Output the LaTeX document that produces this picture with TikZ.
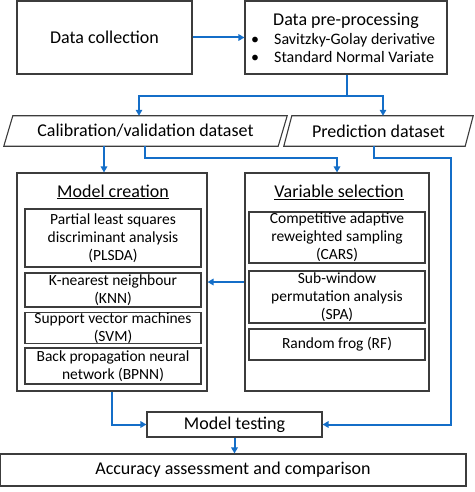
\documentclass[tikz,border=0pt]{standalone}
\usepackage{fontspec}
\setmainfont{Carlito}
\usetikzlibrary{arrows.meta,calc}
\definecolor{flowblue}{RGB}{20,110,200}
\definecolor{boxgray}{RGB}{60,60,60}
\tikzset{
  box/.style={draw=boxgray, line width=1.1pt, inner sep=0pt, align=center, font=\fontsize{18}{20}\selectfont},
  subbox/.style={draw=boxgray, line width=1.1pt, inner sep=0pt, align=center, minimum width=176pt, font=\fontsize{15.5}{18}\selectfont},
  plain/.style={inner sep=0pt, align=center, font=\fontsize{18}{20}\selectfont},
  smalltext/.style={inner sep=0pt, align=left, font=\fontsize{16}{18}\selectfont},
  flow/.style={draw=flowblue, line width=2pt},
  arr/.style={flow, -{Triangle[length=6pt,width=6.5pt]}},
}
\begin{document}
\begin{tikzpicture}[x=1pt,y=-1pt]
\useasboundingbox (0,0) rectangle (474,492);
% top row
\node[box, minimum width=175pt, minimum height=73pt] (dc) at (104.5,37.5) {Data collection};
\node[box, minimum width=202pt, minimum height=73pt] (pp) at (346,37.5) {};
\node[plain, anchor=base] (pptitle) at (346,26) {Data pre-processing};
\node[smalltext, anchor=base west] (ppb1) at (274,44.5) {Savitzky-Golay derivative};
\node[smalltext, anchor=base west] (ppb2) at (274,62.5) {Standard Normal Variate};
\node[smalltext, anchor=base] (bul1) at (255,44.5) {\textbullet};
\node[smalltext, anchor=base] (bul2) at (255,62.5) {\textbullet};
% datasets
\node[plain, minimum width=283pt, minimum height=30pt] (cal) at (145.5,131) {Calibration/validation dataset};
\draw[draw=boxgray, line width=1.1pt] ([xshift=9pt]cal.north west) -- (cal.north east) -- ([xshift=-9pt]cal.south east) -- (cal.south west) -- cycle;
\node[plain, minimum width=189pt, minimum height=30pt] (pred) at (378.5,131) {Prediction dataset};
\draw[draw=boxgray, line width=1.1pt] ([xshift=8pt]pred.north west) -- (pred.north east) -- ([xshift=-8pt]pred.south east) -- (pred.south west) -- cycle;
% big boxes
\node[box, minimum width=190pt, minimum height=218pt] (mc) at (112,282) {};
\node[plain, anchor=base] (mct) at (113,197) {\underline{Model creation}};
\node[box, minimum width=184pt, minimum height=218pt] (vs) at (337,282) {};
\node[plain, anchor=base] (vst) at (339,197.5) {\underline{Variable selection}};
% model sub boxes
\node[subbox, minimum height=58pt] (plsda) at (113,238) {Partial least squares\\discriminant analysis\\(PLSDA)};
\node[subbox, minimum height=34pt] (knn) at (113,290) {K-nearest neighbour\\(KNN)};
\node[subbox, minimum height=30pt] (svm) at (113,328) {Support vector machines\\(SVM)};
\node[subbox, minimum height=36pt] (bpnn) at (113,366) {Back propagation neural\\network (BPNN)};
% selection sub boxes
\node[subbox, minimum height=51pt] (cars) at (337,237.5) {Competitive adaptive\\reweighted sampling\\(CARS)};
\node[subbox, minimum height=52pt] (spa) at (337,297) {Sub-window\\permutation analysis\\(SPA)};
\node[subbox, minimum height=31pt] (rf) at (337,344.5) {Random frog (RF)};
% bottom
\node[box, minimum width=175pt, minimum height=25pt] (mt) at (234.5,424.5) {Model testing};
\node[box, minimum width=466pt, minimum height=32pt] (acc) at (233,470) {Accuracy assessment and comparison};
% connectors
\draw[arr] (dc.east) -- (pp.west);
\coordinate (split) at ($(pp.south)+(1,21)$);
\coordinate (calin) at ($(cal.north)+(-6.5,0)$);
\coordinate (predin) at ($(pred.north)+(4.5,0)$);
\draw[flow] (pp.south -| split) -- (split);
\draw[arr] (split) -| (calin);
\draw[arr] (split) -| (predin);
\coordinate (cA) at ($(cal.south)+(-41.5,0)$);
\coordinate (cB) at ($(cal.south)+(-0.5,0)$);
\coordinate (pB) at ($(pred.south)+(-4.5,0)$);
\coordinate (rt) at ($(mt.east)+(128,0)$);
\draw[arr] (cA) -- (cA |- mc.north);
\draw[arr] (cB) -- ++(0,12) -| (vs.north);
\draw[arr] (pB) -- ++(0,12) -| (rt) -- (mt.east);
\draw[arr] (vs.west) -- (mc.east);
\draw[arr] (mc.south) |- (mt.west);
\draw[arr] (mt.south) -- (mt.south |- acc.north);
\end{tikzpicture}
\end{document}
